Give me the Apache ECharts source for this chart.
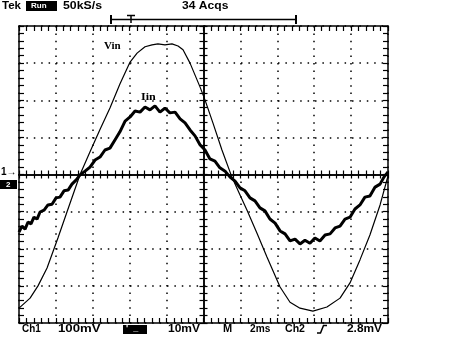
<!DOCTYPE html>
<html><head><meta charset="utf-8">
<script src="https://cdn.jsdelivr.net/npm/echarts@6/dist/echarts.min.js"></script>
<style>html,body{margin:0;padding:0;background:#fff}#c{width:474px;height:356px}</style>
</head><body><div id="c"></div>
<script>
// Ch1: Vin (100 mV/div), time in ms (2 ms/div)
const vinTime = [-10.00,-9.40,-8.97,-8.48,-7.89,-7.40,-6.69,-6.15,-5.61,-5.07,-4.53,-3.98,-3.60,-3.17,-2.79,-2.47,-2.09,-1.71,-1.38,-1.11,-0.73,-0.19,0.08,0.51,1.00,1.54,1.98,2.36,2.90,3.44,4.15,4.69,5.23,5.93,6.69,7.40,7.94,8.48,9.02,9.57,10.00];
const vinMV = [-360,-333,-300,-252,-171,-101,0,61,121,179,244,303,327,344,349,352,349,352,346,336,300,236,201,139,66,-7,-55,-96,-158,-222,-303,-344,-360,-368,-357,-333,-292,-230,-163,-82,-4];
// Ch2: Iin (10 mV/div)
const iinTime = [-10.00,-9.84,-9.67,-9.51,-9.35,-9.19,-9.02,-8.86,-8.64,-8.43,-8.21,-7.99,-7.78,-7.56,-7.34,-7.13,-6.91,-6.69,-6.42,-6.15,-5.88,-5.61,-5.34,-5.07,-4.80,-4.53,-4.25,-3.98,-3.71,-3.44,-3.17,-2.90,-2.63,-2.36,-2.09,-1.82,-1.54,-1.27,-1.00,-0.73,-0.46,-0.19,0.08,0.35,0.62,0.89,1.17,1.44,1.71,1.98,2.25,2.52,2.79,3.06,3.33,3.60,3.88,4.15,4.42,4.69,4.96,5.23,5.50,5.77,6.04,6.31,6.59,6.86,7.13,7.40,7.67,7.94,8.21,8.48,8.75,9.02,9.30,9.57,9.78,10.00];
const iinMV = [-15.5,-13.9,-14.7,-12.8,-13.3,-11.5,-12.0,-10.1,-9.6,-8.2,-8.0,-6.3,-6.1,-4.4,-4.2,-2.6,-1.5,-0.1,0.9,2.0,3.9,4.7,6.6,7.1,9.3,11.5,14.4,15.5,17.1,16.8,18.2,17.4,18.5,16.8,17.9,16.6,16.8,15.0,13.9,12.0,10.4,8.0,6.6,4.2,3.6,1.8,0.9,-0.7,-1.8,-3.6,-4.4,-6.3,-7.1,-9.0,-9.8,-12.0,-13.1,-15.2,-16.0,-17.9,-17.4,-18.7,-17.7,-18.5,-17.1,-17.9,-16.3,-16.0,-14.4,-13.9,-12.0,-11.5,-9.3,-8.2,-6.1,-5.8,-3.4,-2.6,-0.7,0.7];

const BLACK = '#000';
const TIME_RANGE = [-10, 10, 2];
const CH1_RANGE = [-400, 400, 100];
const CH2_RANGE = [-40, 40, 10];

function ax(range, gridIndex, position, onZero, inside, split, tickLen) {
  return {type:'value', gridIndex:gridIndex, min:range[0], max:range[1], interval:range[2], position:position,
    axisLabel:{show:false},
    splitLine:{show:true, lineStyle: split ? {color:BLACK, width:1.5, type:[1.5, 5.9]} : {color:'rgba(0,0,0,0)', width:0}},
    axisTick:{show:true, inside:inside, length:tickLen, lineStyle:{color:BLACK, width:1.2}},
    minorTick:{show:true, splitNumber:5, length:tickLen, lineStyle:{color:BLACK, width:1.2}},
    axisLine:{show:true, onZero:onZero, lineStyle:{color:BLACK, width:1.5}}};
}

const FONT = 'bold 11px "Liberation Sans"';
function txt(text, x, y, sx, font, fill) {
  return {type:'text', x:x, y:y, scaleX:sx||1, z:100,
    style:{text:text, font:font||FONT, fill:fill||BLACK, textAlign:'left', textVerticalAlign:'middle'}};
}
function ln(x1,y1,x2,y2,w) {
  return {type:'line', z:100, shape:{x1:x1,y1:y1,x2:x2,y2:y2}, style:{stroke:BLACK, lineWidth:w||1.5}};
}
function box(x,y,w,h) {
  return {type:'rect', z:99, shape:{x:x,y:y,width:w,height:h}, style:{fill:BLACK}};
}

const G = {left:19, top:26, right:86, bottom:33, containLabel:false};
const chart = echarts.init(document.getElementById('c'), null, {renderer:'canvas'});
chart.setOption({
  animation:false,
  backgroundColor:'#fff',
  grid:[Object.assign({}, G), Object.assign({}, G), Object.assign({}, G)],
  xAxis:[
    ax(TIME_RANGE, 0, 'bottom', false, true, true, 5),
    ax(TIME_RANGE, 0, 'top', false, true, false, 5),
    ax(TIME_RANGE, 1, 'bottom', true, true, false, 4),
    ax(TIME_RANGE, 2, 'bottom', true, false, false, 4)
  ],
  yAxis:[
    ax(CH1_RANGE, 0, 'left', false, true, true, 5),
    ax(CH1_RANGE, 0, 'right', false, true, false, 5),
    ax(CH2_RANGE, 1, 'left', true, true, false, 4),
    ax(CH2_RANGE, 2, 'left', true, false, false, 4)
  ],
  series:[
    {type:'line', name:'Vin', xAxisIndex:0, yAxisIndex:0, showSymbol:false, silent:true,
     data: vinTime.map((t,i)=>[t, vinMV[i]]), lineStyle:{color:BLACK, width:1.2}, z:5},
    {type:'line', name:'Iin', xAxisIndex:2, yAxisIndex:2, showSymbol:false, silent:true,
     data: iinTime.map((t,i)=>[t, iinMV[i]]), lineStyle:{color:BLACK, width:3}, z:5}
  ],
  graphic:[
    txt('Tek', 2, 6, 1.05),
    box(26, 1, 31, 10),
    txt('Run', 31, 6, 1, 'bold 8px "Liberation Sans"', '#fff'),
    txt('50kS/s', 63, 6, 1.12),
    txt('34 Acqs', 182, 6, 1.1),
    ln(111, 19.5, 296, 19.5, 1.5),
    ln(111, 15, 111, 24, 2),
    ln(296, 15, 296, 24, 2),
    ln(127, 15.5, 135, 15.5, 1.5),
    ln(131, 15.5, 131, 23, 1.5),
    txt('Vin', 104, 46, 1, 'bold 11px "Liberation Serif"'),
    txt('Iin', 141, 97, 1.1, 'bold 11px "Liberation Serif"'),
    txt('1\u2192', 1, 172, 1, 'bold 10px "Liberation Sans"'),
    box(0, 180, 17, 9),
    txt('2', 6, 184.5, 1, 'bold 8px "Liberation Sans"', '#fff'),
    txt('Ch1', 22, 329, 0.9),
    txt('100mV', 58, 329, 1.2),
    box(123, 325, 24, 9),
    txt("'  _", 126, 329, 1, 'bold 9px "Liberation Sans"', '#fff'),
    txt('10mV', 168, 329, 1.09),
    txt('M', 223, 329, 1.0),
    txt('2ms', 250, 329, 0.92),
    txt('Ch2', 285, 329, 0.96),
    {type:'polyline', z:100, shape:{points:[[317,333],[320.5,333],[323.5,325.5],[327,325.5]]}, style:{stroke:BLACK, lineWidth:1.5, fill:null}},
    txt('2.8mV', 347, 329, 1.08)
  ]
});
</script>
</body></html>
